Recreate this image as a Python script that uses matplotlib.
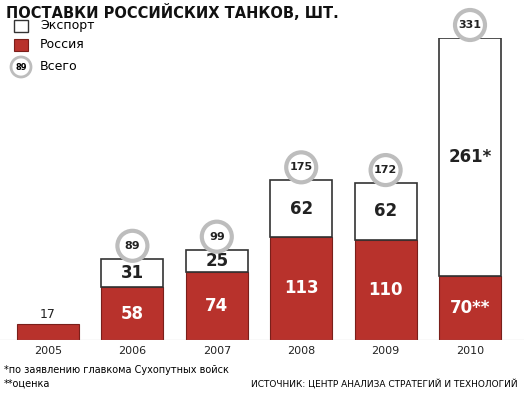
import matplotlib
matplotlib.use("Agg")
import matplotlib.pyplot as plt
from matplotlib.patches import Circle, Rectangle

years = ["2005", "2006", "2007", "2008", "2009", "2010"]
russia = [17, 58, 74, 113, 110, 70]
export = [0, 31, 25, 62, 62, 261]
totals = [None, 89, 99, 175, 172, 331]
russia_lbl = ["17", "58", "74", "113", "110", "70**"]
export_lbl = ["", "31", "25", "62", "62", "261*"]

W, H = 524, 400
fig = plt.figure(figsize=(W/100, H/100), dpi=100)
fig.patch.set_facecolor("white")
ax = fig.add_axes([0, 60/H, 1, (340-38)/H])
step = 84.4
ax.set_xlim(-48/step, (W-48)/step)
ax.set_ylim(0, 331)
ax.axis("off")

red = "#b8322c"
bw = 62/step
ppu = (340-38)/331  # pixels per unit
for i in range(len(years)):
    ax.bar(i, russia[i], width=bw, color=red, edgecolor="#7a1f1a", linewidth=0.8)
    if export[i]:
        ax.bar(i, export[i], bottom=russia[i], width=bw, color="white", edgecolor="#333333", linewidth=1.2)
        ax.text(i, russia[i]+export[i]/2, export_lbl[i], ha="center", va="center",
                fontsize=12, fontweight="bold", color="#222222")
    if i == 0:
        ax.text(i, russia[i]+4, russia_lbl[i], ha="center", va="bottom", fontsize=9, color="#222")
    else:
        ax.text(i, russia[i]/2, russia_lbl[i], ha="center", va="center",
                fontsize=12, fontweight="bold", color="white")
    if totals[i]:
        top = russia[i]+export[i]
        cx_px = 48 + i*step
        cy_px = 340 - top*ppu - 13
        fig.patches.append(Circle((cx_px/W, 1-cy_px/H), 15/W, transform=fig.transFigure,
                                  facecolor="white", edgecolor="#bbbbbb", linewidth=3))
        # keep circle round: use ellipse via Ellipse
    ax.text(i, -12, years[i], ha="center", va="center", fontsize=8, color="#222")

# fix circles aspect
from matplotlib.patches import Ellipse
fig.patches.clear()
for i in range(len(years)):
    if totals[i]:
        top = russia[i]+export[i]
        cx = (48 + i*step)/W
        cy = 1 - (340 - top*ppu - 13)/H
        fig.patches.append(Ellipse((cx, cy), 30/W, 30/H, transform=fig.transFigure,
                                   facecolor="white", edgecolor="#bdbdbd", linewidth=3, zorder=5))
        fig.text(cx, cy, str(totals[i]), ha="center", va="center", fontsize=8,
                 fontweight="bold", color="#222", zorder=6)

fig.text(6/W, 1-12/H, "ПОСТАВКИ РОССИЙСКИХ ТАНКОВ, ШТ.", fontsize=10.5, fontweight="bold",
         va="center", color="#111")
# legend
fig.patches.append(Rectangle((14/W, 1-32/H), 14/W, 12/H, transform=fig.transFigure,
                             facecolor="white", edgecolor="#333", linewidth=1))
fig.text(40/W, 1-26/H, "Экспорт", fontsize=9, va="center")
fig.patches.append(Rectangle((14/W, 1-51/H), 14/W, 12/H, transform=fig.transFigure,
                             facecolor=red, edgecolor="#7a1f1a", linewidth=0.8))
fig.text(40/W, 1-45/H, "Россия", fontsize=9, va="center")
fig.patches.append(Ellipse((21/W, 1-67/H), 20/W, 20/H, transform=fig.transFigure,
                           facecolor="white", edgecolor="#bdbdbd", linewidth=2))
fig.text(21/W, 1-67/H, "89", fontsize=6, fontweight="bold", ha="center", va="center")
fig.text(40/W, 1-66/H, "Всего", fontsize=9, va="center")

fig.text(4/W, 1-370/H, "*по заявлению главкома Сухопутных войск", fontsize=7, va="center")
fig.text(4/W, 1-384/H, "**оценка", fontsize=7, va="center")
fig.text(518/W, 1-384/H, "ИСТОЧНИК: ЦЕНТР АНАЛИЗА СТРАТЕГИЙ И ТЕХНОЛОГИЙ", fontsize=6.5,
         ha="right", va="center")
ax.axhline(0, color="#999", lw=0.8)
fig.savefig("out.png", dpi=100)
